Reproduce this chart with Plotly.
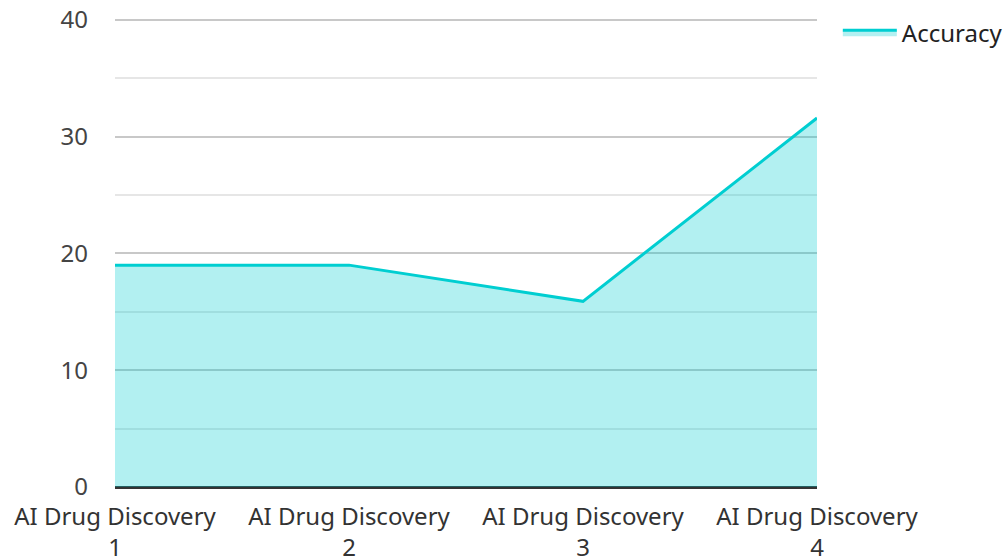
import plotly.graph_objects as go

categories = ["AI Drug Discovery<br>1", "AI Drug Discovery<br>2", "AI Drug Discovery<br>3", "AI Drug Discovery<br>4"]
accuracy = [19.0, 19.0, 15.9, 31.6]
series_name = "Accuracy"

fig = go.Figure()
fig.add_trace(go.Scatter(
    x=categories, y=accuracy, name=series_name, mode="lines",
    line=dict(color="#00CED1", width=3),
    fill="tozeroy", fillcolor="rgba(0,206,209,0.3)",
))

fig.update_layout(
    width=1007, height=559,
    margin=dict(l=115, r=190, t=17, b=72, autoexpand=False),
    paper_bgcolor="white", plot_bgcolor="white",
    font=dict(family="Noto Sans", size=24, color="#444"),
    showlegend=True,
    legend=dict(xref="container", yref="container", x=0.832, y=0.982,
                xanchor="left", yanchor="top", itemwidth=54,
                font=dict(size=24, color="#222"), bgcolor="rgba(0,0,0,0)"),
    xaxis=dict(range=[0, 3], showgrid=False, showline=False, zeroline=False,
               ticks="", tickfont=dict(size=24, color="#333"), ticklabelstandoff=13,
               ticklabeloverflow="allow", automargin=False, fixedrange=True),
    yaxis=dict(range=[0, 40.25], tickvals=[0, 10, 20, 30, 40], showgrid=True,
               gridcolor="#c8c8c8", gridwidth=1.5,
               minor=dict(tickvals=[5, 15, 25, 35], showgrid=True, gridcolor="#e6e6e6", gridwidth=1.5),
               zeroline=True, zerolinecolor="#333", zerolinewidth=2.5,
               showline=False, ticks="", ticklabelstandoff=26, automargin=False,
               ticklabeloverflow="allow", tickfont=dict(size=24, color="#444"),
               fixedrange=True),
)

fig.write_html("out.html", config={"displayModeBar": False},
               post_script="document.body.style.margin='0';")
